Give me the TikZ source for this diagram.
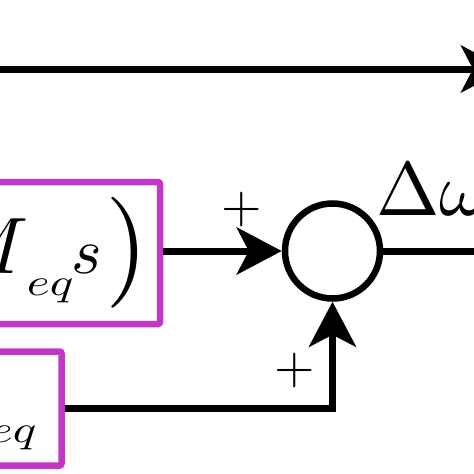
\documentclass[tikz,border=0pt]{standalone}
\usetikzlibrary{arrows.meta,calc}
\definecolor{boxmag}{RGB}{195,55,200}
\tikzset{
  blockbox/.style={draw=boxmag,line width=6.5pt,rounded corners=2pt,inner sep=0pt,fill=none},
  sumnode/.style={draw=black,circle,line width=6.5pt,inner sep=0pt,minimum size=95pt},
  sig/.style={line width=7pt,draw=black},
  sigarrow/.style={sig,-{Stealth[length=45pt,width=47pt,inset=12pt]}},
  txt/.style={inner sep=0pt,outer sep=0pt,text=black},
}
\begin{document}
\begin{tikzpicture}[x=1pt,y=-1pt]
\useasboundingbox (0,0) rectangle (474,474);
\clip (0,0) rectangle (474,474);
\fill[white] (0,0) rectangle (474,474);
% blocks
\node[blockbox,minimum width=220pt,minimum height=142pt] (topbox) at (50,253) {};
\node[blockbox,minimum width=121.5pt,minimum height=114pt] (botbox) at (0.75,408.5) {};
\node[sumnode] (sum) at (332.5,251) {};
% free ends
\coordinate (topstart) at (-10,69);
\coordinate (topend) at (506,69);
\coordinate (outend) at (490,251);
% connectors
\draw[sigarrow] (topstart) -- (topend);
\draw[sigarrow] (topbox.east |- sum) -- (sum.west);
\draw[sigarrow] (botbox.east) -| (sum.south);
\draw[sig] (sum.east) -- (outend);
% texts
\node[txt,anchor=base west] (mlab) at (-57,273) {\scalebox{8}{$M$}};
\node[txt,anchor=base west] (eqlab) at (27,295) {\scalebox{4.9}[3.8]{$eq$}};
\node[txt,anchor=base west] (slab) at (71,273) {\scalebox{6.5}{$s$}};
\node[txt,anchor=base west] (paren) at (105,280) {\scalebox{11.1}{)}};
\node[txt,anchor=base west] (eqlab2) at (-10,442) {\scalebox{4.9}[3.8]{$eq$}};
\node[txt,anchor=base west] (dw) at (376,215) {\scalebox{7.6}{$\Delta\omega$}};
\node[txt] (plus1) at (242,209) {\scalebox{5.2}{+}};
\node[txt] (plus2) at (295,370) {\scalebox{5.2}{+}};
\end{tikzpicture}
\end{document}
